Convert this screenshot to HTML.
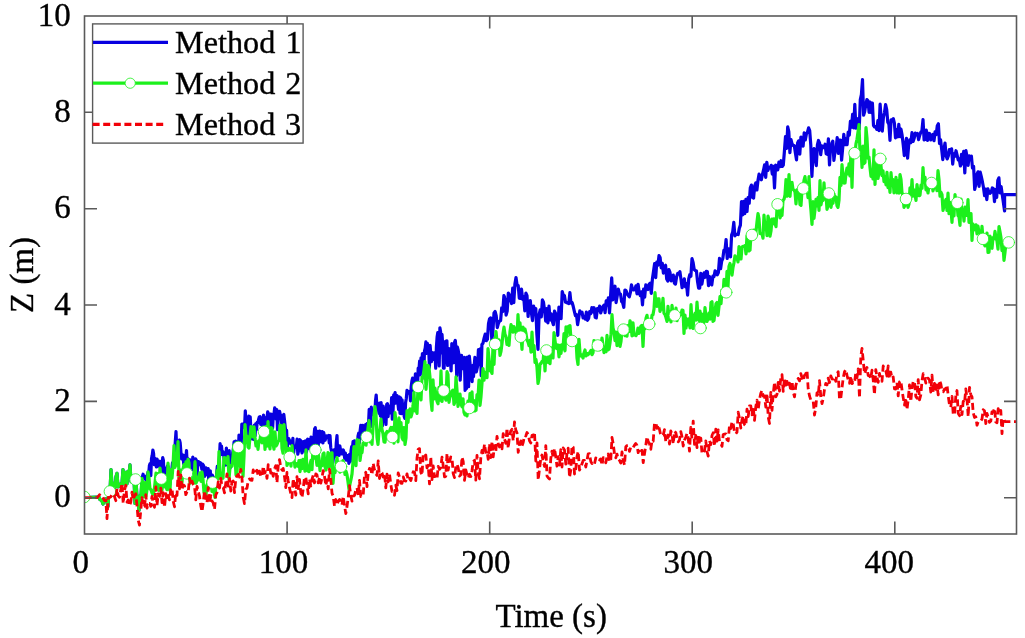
<!DOCTYPE html>
<html><head><meta charset="utf-8"><title>Z (m) vs Time (s)</title><style>
html,body{margin:0;padding:0;background:#fff;}
svg{display:block;}
text{font-family:"Liberation Serif","Times New Roman",serif;font-size:33px;fill:#000;stroke:#000;stroke-width:0.35px;}
text.lg{font-size:32.2px;}
</style></head><body>
<svg width="1025" height="638" viewBox="0 0 1025 638">
<rect width="1025" height="638" fill="#fff"/>
<defs><clipPath id="ax"><rect x="84.5" y="16" width="932.0" height="518"/></clipPath></defs>
<g clip-path="url(#ax)" fill="none" stroke-linejoin="round" stroke-linecap="round">
<path d="M84.6 497.6 L99.0 497.0 L100.0 499.6 L101.0 500.1 L102.0 501.0 L103.0 504.1 L104.0 500.7 L105.0 499.2 L106.0 498.8 L107.0 502.7 L108.0 506.4 L109.0 488.3 L110.0 491.5 L111.0 469.6 L112.0 484.8 L113.0 489.0 L114.0 483.4 L115.0 487.7 L116.0 476.8 L117.0 473.3 L118.0 486.9 L119.0 486.4 L120.0 484.7 L121.0 483.7 L122.0 483.1 L123.0 469.6 L124.0 483.8 L125.0 483.7 L126.0 472.4 L127.0 483.8 L128.0 471.4 L129.0 475.2 L130.0 464.8 L131.0 481.5 L132.0 482.3 L133.0 479.2 L134.0 478.5 L135.0 503.4 L136.0 479.5 L137.0 497.8 L138.0 501.2 L139.0 510.4 L140.0 495.9 L141.0 495.9 L142.0 478.3 L143.1 474.2 L143.8 477.1 L144.5 476.6 L145.2 478.3 L145.9 480.0 L146.6 475.7 L147.3 475.5 L148.0 472.4 L148.7 473.8 L149.4 465.6 L150.1 463.6 L150.8 475.6 L151.5 458.7 L152.2 455.4 L152.9 450.0 L153.6 453.5 L154.3 464.7 L155.0 458.3 L155.7 461.5 L156.4 467.0 L157.1 459.1 L157.8 466.4 L158.5 460.9 L159.2 464.7 L159.9 463.6 L160.6 461.4 L161.3 471.1 L162.0 471.7 L162.7 457.6 L163.4 460.5 L164.1 480.5 L164.8 470.0 L165.5 476.6 L166.2 468.3 L166.9 467.3 L167.6 465.8 L168.3 467.0 L169.0 476.4 L169.7 484.9 L170.4 476.1 L171.1 474.7 L171.8 470.0 L172.5 462.9 L173.2 462.4 L173.9 467.5 L174.6 452.5 L175.3 441.5 L176.0 431.6 L176.7 449.1 L177.4 443.7 L178.1 464.7 L178.8 444.8 L179.5 440.2 L180.2 443.0 L180.9 452.0 L181.6 459.0 L182.3 457.4 L183.0 455.1 L183.7 463.8 L184.4 455.6 L185.1 462.2 L185.8 458.6 L186.5 450.7 L187.2 465.2 L187.9 458.6 L188.6 468.0 L189.3 463.2 L190.0 459.8 L190.7 466.8 L191.4 463.8 L192.1 469.9 L192.8 457.1 L193.5 468.5 L194.2 461.2 L194.9 469.7 L195.6 458.9 L196.3 460.0 L197.0 475.7 L197.7 464.8 L198.4 461.5 L199.1 463.6 L199.8 464.5 L200.5 462.7 L201.2 465.3 L201.9 469.4 L202.6 464.1 L203.3 465.1 L204.0 466.9 L204.7 476.3 L205.4 468.4 L206.1 468.0 L206.8 474.6 L207.5 472.7 L208.2 468.6 L208.9 483.3 L209.6 471.7 L210.3 471.0 L211.0 484.5 L211.7 481.4 L212.4 475.2 L213.1 479.0 L213.8 477.9 L214.5 480.3 L215.2 484.4 L215.9 478.7 L216.6 474.4 L217.3 466.3 L218.0 470.1 L218.7 469.6 L219.4 459.3 L220.1 443.7 L220.8 450.4 L221.5 446.2 L222.2 454.5 L222.9 451.5 L223.6 452.7 L224.3 462.9 L225.0 457.2 L225.7 465.1 L226.4 448.0 L227.1 460.6 L227.8 451.3 L228.5 464.1 L229.2 450.6 L229.9 468.4 L230.6 467.0 L231.3 456.6 L232.0 461.2 L232.7 452.8 L233.4 448.8 L234.1 441.9 L234.8 458.2 L235.5 441.0 L236.2 441.5 L236.9 449.3 L237.6 450.2 L238.3 453.2 L239.0 435.0 L239.7 455.7 L240.4 442.2 L241.1 448.8 L241.8 424.2 L242.5 425.7 L243.2 427.7 L243.9 423.5 L244.6 426.8 L245.3 410.8 L246.0 423.9 L246.7 434.6 L247.4 417.9 L248.1 423.1 L248.8 416.1 L249.5 438.3 L250.2 416.8 L250.9 431.1 L251.6 426.9 L252.3 438.8 L253.0 428.4 L253.7 439.5 L254.4 425.0 L255.1 435.8 L255.8 423.5 L256.5 429.7 L257.2 422.3 L257.9 422.8 L258.6 419.5 L259.3 417.0 L260.0 416.7 L260.7 424.4 L261.4 418.5 L262.1 418.3 L262.8 431.4 L263.5 415.0 L264.2 429.9 L264.9 417.6 L265.6 428.7 L266.3 424.8 L267.0 417.9 L267.7 411.9 L268.4 413.7 L269.1 430.3 L269.8 415.9 L270.5 414.1 L271.2 427.3 L271.9 414.4 L272.6 428.1 L273.3 415.0 L274.0 413.9 L274.7 407.9 L275.4 409.7 L276.1 419.2 L276.8 409.5 L277.5 429.7 L278.2 416.6 L278.9 413.9 L279.6 411.3 L280.3 414.8 L281.0 417.1 L281.7 425.2 L282.4 423.6 L283.1 415.8 L283.8 414.4 L284.5 420.1 L285.2 426.9 L285.9 432.8 L286.6 430.3 L287.3 448.8 L288.0 438.3 L288.7 438.5 L289.4 441.4 L290.1 443.0 L290.8 441.2 L291.5 444.4 L292.2 444.5 L292.9 438.4 L293.6 453.1 L294.3 447.9 L295.0 447.9 L295.7 445.9 L296.4 446.4 L297.1 439.2 L297.8 454.1 L298.5 451.1 L299.2 442.3 L299.9 439.7 L300.6 440.5 L301.3 449.5 L302.0 452.9 L302.7 448.6 L303.4 441.7 L304.1 442.6 L304.8 451.2 L305.5 440.9 L306.2 452.7 L306.9 449.9 L307.6 439.2 L308.3 440.6 L309.0 448.3 L309.7 439.3 L310.4 445.4 L311.1 437.0 L311.8 445.0 L312.5 447.8 L313.2 438.1 L313.9 438.0 L314.6 429.0 L315.3 427.7 L316.0 450.0 L316.7 435.0 L317.4 431.3 L318.1 448.2 L318.8 434.8 L319.5 431.2 L320.2 431.3 L320.9 441.8 L321.6 440.1 L322.3 431.6 L323.0 443.0 L323.7 432.5 L324.4 436.6 L325.1 440.3 L325.8 437.6 L326.5 436.0 L327.2 437.7 L327.9 436.0 L328.6 435.5 L329.3 443.0 L330.0 435.6 L330.7 447.2 L331.4 450.7 L332.1 451.0 L332.8 462.9 L333.5 457.3 L334.2 449.8 L334.9 455.1 L335.6 456.7 L336.3 442.7 L337.0 435.6 L337.7 454.4 L338.4 450.5 L339.1 455.5 L339.8 445.9 L340.5 449.9 L341.2 449.9 L341.9 454.0 L342.6 451.9 L343.3 450.0 L344.0 452.5 L344.7 458.4 L345.4 453.1 L346.1 460.2 L346.8 455.4 L347.5 457.4 L348.2 455.7 L348.9 463.4 L349.6 454.4 L350.3 461.3 L351.0 451.1 L351.7 446.6 L352.4 449.0 L353.1 441.5 L353.8 446.0 L354.5 440.9 L355.2 448.4 L355.9 446.2 L356.6 446.0 L357.3 454.6 L358.0 436.2 L358.7 433.2 L359.4 442.8 L360.1 431.2 L360.8 425.3 L361.5 425.8 L362.2 435.6 L362.9 425.3 L363.6 430.9 L364.3 427.7 L365.0 433.5 L365.7 424.7 L366.4 427.1 L367.1 423.7 L367.8 430.3 L368.5 424.3 L369.2 409.3 L369.9 420.7 L370.6 426.6 L371.3 407.2 L372.0 414.7 L372.7 410.7 L373.4 412.7 L374.1 414.5 L374.8 416.1 L375.5 400.9 L376.2 395.0 L376.9 406.6 L377.6 403.4 L378.3 409.1 L379.0 413.3 L379.7 403.1 L380.4 416.0 L381.1 402.6 L381.8 420.8 L382.5 425.6 L383.2 406.0 L383.9 421.3 L384.6 419.3 L385.3 408.2 L386.0 424.4 L386.7 404.3 L387.4 403.6 L388.1 416.6 L388.8 405.9 L389.5 407.5 L390.2 407.6 L390.9 413.1 L391.6 397.7 L392.3 419.1 L393.0 412.0 L393.7 394.9 L394.4 395.8 L395.1 392.6 L395.8 403.1 L396.5 395.3 L397.2 395.8 L397.9 403.2 L398.6 409.6 L399.3 396.8 L400.0 413.3 L400.7 397.8 L401.4 413.7 L402.1 399.8 L402.8 411.2 L403.5 404.1 L404.2 416.4 L404.9 418.4 L405.6 402.6 L406.3 398.4 L407.0 390.4 L407.7 391.4 L408.4 392.4 L409.1 393.2 L409.8 391.3 L410.5 400.9 L411.2 386.6 L411.9 381.1 L412.6 378.1 L413.3 385.1 L414.0 390.7 L414.7 390.5 L415.4 373.9 L416.1 375.1 L416.8 376.7 L417.5 388.0 L418.2 368.1 L418.9 371.0 L419.6 361.2 L420.3 374.8 L421.0 357.9 L421.7 367.2 L422.4 353.5 L423.1 358.8 L423.8 371.9 L424.5 350.8 L425.2 348.2 L425.9 341.9 L426.6 353.3 L427.3 343.4 L428.0 346.7 L428.7 348.2 L429.4 367.5 L430.1 345.4 L430.8 353.7 L431.5 361.7 L432.2 352.7 L432.9 358.5 L433.6 353.0 L434.3 359.4 L435.0 352.5 L435.7 368.2 L436.4 347.1 L437.1 337.0 L437.8 332.6 L438.5 344.6 L439.2 366.0 L439.9 327.8 L440.6 331.7 L441.3 352.9 L442.0 334.4 L442.7 344.0 L443.4 368.1 L444.1 368.2 L444.8 354.0 L445.5 341.4 L446.2 347.5 L446.9 340.9 L447.6 365.5 L448.3 364.5 L449.0 348.5 L449.7 364.7 L450.4 361.2 L451.1 371.0 L451.8 343.5 L452.5 363.1 L453.2 354.7 L453.9 362.6 L454.6 342.2 L455.3 340.4 L456.0 348.8 L456.7 375.8 L457.4 347.1 L458.1 349.9 L458.8 353.7 L459.5 357.0 L460.2 380.2 L460.9 366.3 L461.6 355.4 L462.3 368.7 L463.0 365.1 L463.7 368.5 L464.4 357.3 L465.1 390.4 L465.8 387.9 L466.5 388.5 L467.2 357.1 L467.9 370.0 L468.6 386.7 L469.3 356.0 L470.0 362.9 L470.7 376.4 L471.4 372.2 L472.1 381.6 L472.8 365.4 L473.5 376.7 L474.2 365.7 L474.9 357.3 L475.6 368.2 L476.3 371.9 L477.0 368.9 L477.7 365.5 L478.4 349.7 L479.1 364.1 L479.8 349.4 L480.5 348.8 L481.2 375.7 L481.9 344.6 L483.0 343.2 L484.1 338.1 L485.2 334.1 L486.3 340.7 L487.4 339.3 L488.5 323.7 L489.6 318.7 L490.7 317.9 L491.8 340.0 L492.9 331.6 L494.0 312.9 L495.1 311.5 L496.2 315.6 L497.3 327.7 L498.4 323.4 L499.5 321.2 L500.6 320.6 L501.7 307.8 L502.8 311.5 L503.9 295.5 L505.0 298.5 L506.1 315.2 L507.2 311.1 L508.3 293.0 L509.4 295.1 L510.5 299.7 L511.6 303.5 L512.7 288.2 L513.8 302.7 L514.9 284.0 L516.0 277.6 L517.1 285.3 L518.2 285.6 L519.3 298.1 L520.4 298.4 L521.5 289.1 L522.6 299.3 L523.7 296.6 L524.8 311.0 L525.9 293.1 L527.0 295.7 L528.1 316.5 L529.2 302.7 L530.3 300.6 L531.4 312.7 L532.5 320.6 L533.6 306.0 L534.7 310.6 L535.8 308.7 L536.9 334.7 L538.0 349.4 L539.1 314.7 L540.2 309.8 L541.3 317.0 L542.4 299.9 L543.5 302.2 L544.6 310.7 L545.7 321.1 L546.8 308.5 L547.9 322.8 L549.0 306.1 L550.1 319.9 L551.2 313.9 L552.3 321.3 L553.4 324.7 L554.5 311.2 L555.6 313.5 L556.7 316.6 L557.8 335.3 L558.9 307.2 L560.0 311.1 L561.1 318.6 L562.2 291.5 L563.3 295.2 L564.4 295.5 L565.5 302.2 L566.6 302.5 L567.7 303.1 L568.8 303.6 L569.9 292.7 L571.0 303.2 L572.1 302.5 L573.2 306.3 L574.3 311.2 L575.4 315.7 L576.5 314.6 L577.6 324.7 L578.7 317.9 L579.8 310.9 L580.9 313.2 L582.0 312.1 L583.1 317.9 L584.2 316.5 L585.3 319.0 L586.4 312.1 L587.5 320.3 L588.6 318.4 L589.7 311.5 L590.8 313.5 L591.9 307.5 L593.0 311.9 L594.1 307.7 L595.2 317.3 L596.3 317.9 L597.4 308.5 L598.5 310.6 L599.6 306.1 L600.7 313.0 L601.8 309.3 L602.9 306.7 L604.0 305.1 L605.1 312.7 L606.2 300.8 L607.3 305.2 L608.4 297.8 L609.5 312.9 L610.6 295.7 L611.7 277.9 L612.8 299.8 L613.9 289.5 L615.0 286.2 L616.1 302.6 L617.2 296.0 L618.3 289.1 L619.4 293.8 L620.5 294.0 L621.6 301.5 L622.7 302.8 L623.8 307.3 L624.9 290.0 L626.0 290.4 L627.1 293.8 L628.2 295.4 L629.3 296.9 L630.4 292.4 L631.5 284.8 L632.6 289.5 L633.7 290.0 L634.8 289.6 L635.9 285.9 L637.0 293.8 L638.1 284.3 L639.2 292.6 L640.3 295.6 L641.4 291.8 L642.5 304.9 L643.6 289.2 L644.7 297.2 L645.8 284.8 L646.9 286.6 L648.0 289.5 L649.1 284.3 L650.2 283.1 L651.3 293.4 L652.4 279.1 L653.5 271.6 L654.6 263.6 L655.7 277.7 L656.8 262.0 L657.9 265.3 L659.0 255.6 L660.1 257.5 L661.2 267.8 L662.3 263.2 L663.4 273.1 L664.5 266.4 L665.6 265.3 L666.7 279.1 L667.8 281.1 L668.9 269.7 L670.0 272.4 L671.1 280.8 L672.2 278.3 L673.3 275.1 L674.4 283.3 L675.5 284.1 L676.6 276.7 L677.7 273.4 L678.8 273.8 L679.9 271.6 L681.0 279.4 L682.1 287.7 L683.2 284.0 L684.3 278.8 L685.4 286.8 L686.5 283.5 L687.6 295.1 L688.7 279.0 L689.8 274.7 L690.9 276.2 L692.0 258.6 L693.1 262.4 L694.2 269.6 L695.3 270.5 L696.4 270.7 L697.5 281.2 L698.6 288.1 L699.7 288.2 L700.8 273.4 L701.9 284.1 L703.0 277.3 L704.1 272.8 L705.2 277.3 L706.3 271.3 L707.4 271.8 L708.5 285.7 L709.6 276.7 L710.7 283.8 L711.8 284.8 L712.9 276.2 L714.0 276.7 L715.1 270.9 L716.2 272.0 L717.3 274.8 L718.4 272.5 L719.5 258.3 L720.6 268.7 L721.7 261.1 L722.8 258.6 L723.9 250.3 L725.0 249.9 L726.1 239.5 L727.2 258.5 L728.3 248.9 L729.4 252.4 L730.5 256.8 L731.6 235.1 L732.7 231.9 L733.8 222.4 L734.9 235.9 L736.0 234.3 L737.1 234.2 L738.2 234.5 L739.3 228.2 L740.4 225.1 L741.5 201.5 L742.6 214.9 L743.7 201.4 L744.8 213.6 L745.9 199.4 L747.0 211.5 L748.1 197.6 L749.2 203.3 L750.3 187.8 L751.4 185.1 L752.5 197.4 L753.6 198.0 L754.7 185.7 L755.8 182.8 L756.9 190.0 L758.0 180.2 L759.1 174.1 L760.2 178.3 L761.3 179.8 L762.4 174.6 L763.5 170.2 L764.6 164.8 L765.7 177.4 L766.8 162.3 L767.9 170.5 L769.0 167.5 L770.1 167.9 L771.2 165.3 L772.3 174.1 L773.4 166.4 L774.5 187.9 L775.6 165.2 L776.7 165.7 L777.8 169.9 L778.9 162.1 L780.0 166.7 L781.1 160.7 L782.2 166.5 L783.3 165.0 L784.4 151.5 L785.5 136.6 L786.6 148.3 L787.7 126.9 L788.8 131.7 L789.9 152.7 L791.0 139.5 L792.1 144.1 L793.2 145.4 L794.3 145.5 L795.4 153.1 L796.5 159.8 L797.6 143.0 L798.7 140.8 L799.8 154.1 L800.9 137.1 L802.0 143.5 L803.1 146.1 L804.2 132.9 L805.3 140.0 L806.4 134.0 L807.5 132.1 L808.6 127.8 L809.7 130.5 L810.8 145.2 L811.9 176.5 L813.0 154.9 L814.1 148.5 L815.2 158.8 L816.3 165.6 L817.4 144.9 L818.5 140.5 L819.6 143.2 L820.7 154.7 L821.8 145.9 L822.9 147.6 L824.0 147.4 L825.1 144.2 L826.2 153.8 L827.3 154.3 L828.4 138.8 L829.5 164.9 L830.6 146.0 L831.7 143.7 L832.8 141.1 L833.9 160.4 L835.0 151.8 L836.1 148.8 L837.2 137.7 L838.3 153.5 L839.4 140.0 L840.5 140.0 L841.6 160.2 L842.7 147.8 L843.8 134.4 L844.9 144.6 L846.0 138.9 L847.1 144.7 L848.2 132.1 L849.3 135.2 L850.4 121.3 L851.5 127.3 L852.6 114.4 L853.7 127.9 L854.8 104.4 L855.9 128.2 L857.0 118.5 L858.1 127.7 L859.2 129.1 L860.3 99.6 L861.4 94.7 L862.5 79.6 L863.6 115.2 L864.7 111.5 L865.8 104.5 L866.9 99.6 L868.0 100.9 L869.1 112.4 L870.2 102.2 L871.3 112.6 L872.4 103.2 L873.5 125.5 L874.6 126.9 L875.7 126.4 L876.8 129.4 L877.9 120.6 L879.0 130.6 L880.1 104.2 L881.2 119.3 L882.3 131.2 L883.4 117.4 L884.5 112.5 L885.6 104.5 L886.7 109.6 L887.8 122.3 L888.9 124.2 L890.0 140.4 L891.1 119.9 L892.2 119.8 L893.3 118.7 L894.4 123.2 L895.5 137.8 L896.6 129.8 L897.7 136.8 L898.8 124.3 L899.9 136.7 L901.0 129.2 L902.1 135.1 L903.2 144.6 L904.3 155.6 L905.4 145.5 L906.5 138.3 L907.6 158.1 L908.7 144.9 L909.8 139.8 L910.9 142.7 L912.0 132.6 L913.1 141.5 L914.2 138.2 L915.3 133.1 L916.4 134.9 L917.5 133.5 L918.6 139.6 L919.7 135.4 L920.8 132.2 L921.9 131.1 L923.0 119.6 L924.1 139.9 L925.2 139.3 L926.3 130.1 L927.4 140.4 L928.5 133.3 L929.6 133.6 L930.7 139.9 L931.8 136.4 L932.9 134.3 L934.0 140.7 L935.1 131.8 L936.2 134.6 L937.3 125.8 L938.4 123.8 L939.5 143.4 L940.6 139.9 L941.7 149.6 L942.8 159.6 L943.9 149.5 L945.0 143.0 L946.1 155.7 L947.2 158.9 L948.3 155.9 L949.4 149.6 L950.5 152.4 L951.6 148.8 L952.7 164.1 L953.8 153.9 L954.9 156.3 L956.0 150.7 L957.1 155.2 L958.2 159.8 L959.3 159.2 L960.4 166.0 L961.5 154.3 L962.6 163.8 L963.7 151.3 L964.8 173.0 L965.9 150.6 L967.0 156.6 L968.1 165.4 L969.2 155.8 L970.3 157.8 L971.4 156.1 L972.5 168.1 L973.6 166.4 L974.7 189.5 L975.8 184.3 L976.9 174.3 L978.0 171.8 L979.1 186.3 L980.2 172.1 L981.3 176.6 L982.4 181.7 L983.5 187.7 L984.6 195.7 L985.7 189.1 L986.8 199.7 L987.9 188.9 L989.0 192.7 L990.1 193.3 L991.2 191.9 L992.3 188.0 L993.4 188.6 L994.5 201.6 L995.6 189.5 L996.7 197.5 L997.8 180.3 L998.9 177.8 L1000.0 193.0 L1001.1 186.6 L1002.2 194.2 L1004.6 211.0 L1004.6 194.7 L1017.0 194.7" stroke="#0800e0" stroke-width="3.2"/>
<path d="M84.6 497.6 L99.0 497.0 L100.0 499.6 L101.0 500.1 L102.0 501.0 L103.0 504.1 L104.0 500.7 L105.0 499.2 L106.0 498.8 L107.0 502.7 L108.0 506.4 L109.0 488.3 L110.0 491.5 L111.0 469.6 L112.0 484.8 L113.0 489.0 L114.0 483.4 L115.0 487.7 L116.0 476.8 L117.0 473.3 L118.0 486.9 L119.0 486.4 L120.0 484.7 L121.0 483.7 L122.0 483.1 L123.0 469.6 L124.0 483.8 L125.0 483.7 L126.0 472.4 L127.0 483.8 L128.0 471.4 L129.0 475.2 L130.0 464.8 L131.0 481.5 L132.0 482.3 L133.0 479.2 L134.0 478.5 L135.0 503.4 L136.0 479.5 L137.0 497.8 L138.0 501.2 L139.0 510.4 L140.0 495.9 L141.0 495.9 L142.0 478.3 L143.0 488.4 L144.0 496.9 L145.0 482.7 L146.0 496.2 L147.0 489.7 L148.0 471.8 L149.0 478.3 L150.0 488.8 L151.0 489.7 L152.0 493.1 L153.0 494.4 L154.0 491.4 L155.0 483.1 L156.0 473.1 L157.0 489.3 L158.0 473.7 L159.0 490.5 L160.0 468.1 L161.0 478.6 L162.0 490.2 L163.0 479.1 L164.0 480.1 L165.0 486.9 L166.0 486.7 L167.0 489.7 L168.0 463.1 L169.0 474.1 L170.0 490.4 L171.0 469.6 L172.0 478.2 L173.0 465.8 L174.0 445.6 L175.0 467.4 L176.0 460.1 L177.0 465.1 L178.0 441.6 L179.0 476.2 L180.0 479.9 L181.0 470.1 L182.0 482.4 L183.0 469.0 L184.0 464.6 L185.0 470.3 L186.0 461.8 L187.0 473.4 L188.0 459.3 L189.0 462.9 L190.0 483.4 L191.0 479.5 L192.0 474.8 L193.0 479.1 L194.0 483.0 L195.0 461.6 L196.0 483.1 L197.0 480.7 L198.0 480.0 L199.0 476.1 L200.0 472.8 L201.0 481.4 L202.0 472.2 L203.0 479.3 L204.0 492.6 L205.0 486.2 L206.0 494.6 L207.0 485.9 L208.0 480.6 L209.0 484.6 L210.0 487.6 L211.0 483.2 L212.0 491.5 L213.0 482.6 L214.0 492.4 L215.0 497.4 L216.0 483.5 L217.0 470.6 L218.0 479.0 L219.0 451.6 L220.0 471.5 L221.0 478.9 L222.0 475.8 L223.0 478.2 L224.0 457.7 L225.0 457.8 L226.0 461.6 L227.0 463.6 L228.0 456.6 L229.0 479.0 L230.0 467.1 L231.0 465.5 L232.0 466.1 L233.0 456.6 L234.0 445.6 L235.0 457.7 L236.0 475.0 L237.0 473.9 L238.0 447.0 L239.0 458.7 L240.0 464.1 L241.0 469.5 L242.0 448.1 L243.0 476.4 L244.0 456.3 L245.0 424.6 L246.0 435.9 L247.0 436.1 L248.0 447.1 L249.0 448.0 L250.0 436.5 L251.0 426.6 L252.0 432.1 L253.0 437.0 L254.0 426.8 L255.0 438.3 L256.0 446.0 L257.0 441.9 L258.0 449.3 L259.0 440.6 L260.0 440.3 L261.0 432.0 L262.0 442.9 L263.0 428.4 L264.0 431.7 L265.0 449.4 L266.0 426.5 L267.0 446.2 L268.0 421.5 L269.0 443.2 L270.0 449.0 L271.0 427.5 L272.0 428.2 L273.0 443.6 L274.0 449.1 L275.0 431.8 L276.0 445.9 L277.0 444.6 L278.0 441.5 L279.0 440.6 L280.0 425.2 L281.0 425.5 L282.0 448.5 L283.0 453.2 L284.0 424.6 L285.0 441.5 L286.0 442.8 L287.0 465.4 L288.0 462.7 L289.0 448.4 L290.0 457.0 L291.0 466.2 L292.0 445.6 L293.0 455.5 L294.0 459.0 L295.0 467.1 L296.0 463.5 L297.0 463.7 L298.0 466.3 L299.0 460.6 L300.0 471.7 L301.0 460.4 L302.0 468.6 L303.0 459.3 L304.0 462.5 L305.0 471.2 L306.0 449.9 L307.0 470.5 L308.0 470.9 L309.0 471.6 L310.0 464.6 L311.0 460.3 L312.0 469.7 L313.0 448.7 L314.0 458.1 L315.0 450.0 L316.0 457.6 L317.0 465.4 L318.0 452.6 L319.0 458.2 L320.0 470.6 L321.0 461.9 L322.0 465.7 L323.0 453.9 L324.0 453.0 L325.0 466.8 L326.0 470.0 L327.0 461.7 L328.0 452.7 L329.0 467.2 L330.0 466.1 L331.0 453.1 L332.0 452.9 L333.0 483.4 L334.0 469.3 L335.0 472.8 L336.0 465.2 L337.0 457.5 L338.0 467.7 L339.0 468.2 L340.0 472.2 L341.0 466.7 L342.0 467.6 L343.0 460.5 L344.0 465.8 L345.0 474.5 L346.0 471.3 L347.0 474.8 L348.0 481.7 L349.0 489.4 L350.0 483.9 L351.0 479.4 L352.0 474.1 L353.0 462.0 L354.0 446.7 L355.0 449.0 L356.0 465.7 L357.0 439.6 L358.0 450.0 L359.0 440.3 L360.0 460.5 L361.0 452.8 L362.0 452.6 L363.0 443.3 L364.0 444.0 L365.0 434.2 L366.0 445.2 L367.0 436.8 L368.0 428.2 L369.0 420.6 L370.0 442.0 L371.0 431.1 L372.0 444.4 L373.0 427.1 L374.0 415.8 L375.0 406.6 L376.0 414.4 L377.0 437.4 L378.0 444.4 L379.0 431.5 L380.0 429.2 L381.0 419.2 L382.0 429.6 L383.0 433.6 L384.0 441.9 L385.0 442.1 L386.0 433.2 L387.0 431.5 L388.0 435.8 L389.0 437.9 L390.0 429.6 L391.0 427.5 L392.0 437.0 L393.0 427.3 L394.0 443.1 L395.0 412.6 L396.0 422.8 L397.0 431.0 L398.0 441.8 L399.0 417.9 L400.0 429.7 L401.0 422.7 L402.0 437.7 L403.0 439.9 L404.0 427.5 L405.0 444.4 L406.0 437.9 L407.0 410.5 L408.0 422.4 L409.0 410.9 L410.0 409.0 L411.0 416.8 L412.0 413.2 L413.0 406.0 L414.0 392.7 L415.0 410.8 L416.0 409.9 L417.0 413.4 L418.0 387.0 L419.0 398.1 L420.0 391.4 L421.0 400.0 L422.0 377.0 L423.0 378.2 L424.0 370.2 L425.0 361.6 L426.0 389.3 L427.0 376.2 L428.0 365.3 L429.0 367.5 L430.0 377.5 L431.0 400.3 L432.0 410.4 L433.0 379.9 L434.0 399.0 L435.0 388.1 L436.0 396.2 L437.0 401.1 L438.0 403.8 L439.0 387.3 L440.0 400.1 L441.0 370.9 L442.0 401.5 L443.0 392.3 L444.0 390.6 L445.0 397.5 L446.0 400.2 L447.0 371.7 L448.0 374.5 L449.0 402.3 L450.0 396.3 L451.0 395.8 L452.0 390.9 L453.0 390.1 L454.0 404.5 L455.0 401.6 L456.0 376.8 L457.0 390.2 L458.0 406.3 L459.0 397.9 L460.0 394.1 L461.0 404.2 L462.0 406.8 L463.0 398.9 L464.0 412.3 L465.0 414.8 L466.0 414.7 L467.0 415.8 L468.0 401.2 L469.0 408.0 L470.0 393.7 L471.0 411.3 L472.0 391.8 L473.0 411.2 L474.0 400.6 L475.0 411.0 L476.0 410.3 L477.0 394.7 L478.0 397.8 L479.0 380.2 L480.0 405.4 L481.0 396.5 L482.0 383.2 L483.0 368.5 L484.0 380.2 L485.0 372.4 L486.0 373.9 L487.0 377.6 L488.0 348.6 L489.0 358.7 L490.0 370.8 L491.0 370.7 L492.0 373.4 L493.0 346.1 L494.0 364.4 L495.0 344.0 L496.0 331.6 L497.0 341.3 L498.0 347.9 L499.0 339.8 L500.0 355.4 L501.0 351.4 L502.0 343.6 L503.0 333.4 L504.0 327.2 L505.0 334.4 L506.0 336.7 L507.0 344.5 L508.0 339.0 L509.0 345.4 L510.0 331.4 L511.0 324.7 L512.0 327.0 L513.0 332.2 L514.0 326.5 L515.0 330.7 L516.0 332.5 L517.0 337.9 L518.0 314.6 L519.0 332.6 L520.0 322.8 L521.0 336.7 L522.0 349.4 L523.0 327.2 L524.0 338.8 L525.0 329.0 L526.0 333.7 L527.0 340.0 L528.0 341.9 L529.0 345.6 L530.0 340.4 L531.0 352.1 L532.0 332.1 L533.0 351.3 L534.0 345.5 L535.0 362.5 L536.0 359.6 L537.0 367.4 L538.0 383.4 L539.0 378.6 L540.0 364.0 L541.0 363.5 L542.0 361.5 L543.0 361.9 L544.0 350.9 L545.0 371.0 L546.0 350.5 L547.0 351.7 L548.0 362.4 L549.0 358.3 L550.0 363.7 L551.0 347.8 L552.0 355.4 L553.0 357.9 L554.0 332.6 L555.0 340.4 L556.0 348.0 L557.0 348.5 L558.0 345.0 L559.0 356.9 L560.0 345.4 L561.0 353.3 L562.0 344.5 L563.0 348.8 L564.0 333.5 L565.0 350.8 L566.0 326.9 L567.0 335.5 L568.0 326.7 L569.0 326.3 L570.0 325.6 L571.0 339.7 L572.0 341.0 L573.0 343.0 L574.0 341.2 L575.0 340.9 L576.0 339.5 L577.0 358.0 L578.0 364.4 L579.0 339.4 L580.0 353.2 L581.0 356.0 L582.0 355.0 L583.0 358.1 L584.0 353.0 L585.0 350.0 L586.0 356.0 L587.0 353.6 L588.0 354.8 L589.0 353.6 L590.0 352.0 L591.0 350.4 L592.0 354.6 L593.0 352.8 L594.0 340.5 L595.0 342.3 L596.0 348.4 L597.0 349.4 L598.0 345.5 L599.0 342.0 L600.0 349.7 L601.0 347.1 L602.0 338.0 L603.0 345.4 L604.0 352.6 L605.0 351.4 L606.0 351.7 L607.0 335.3 L608.0 349.8 L609.0 349.2 L610.0 342.9 L611.0 334.2 L612.0 314.6 L613.0 327.9 L614.0 331.9 L615.0 340.6 L616.0 332.1 L617.0 345.6 L618.0 332.3 L619.0 339.1 L620.0 346.4 L621.0 341.4 L622.0 330.8 L623.0 329.6 L624.0 331.1 L625.0 335.6 L626.0 331.9 L627.0 336.1 L628.0 325.7 L629.0 331.6 L630.0 320.8 L631.0 324.2 L632.0 335.9 L633.0 322.9 L634.0 335.1 L635.0 334.7 L636.0 335.6 L637.0 333.6 L638.0 328.1 L639.0 333.4 L640.0 328.5 L641.0 326.1 L642.0 325.4 L643.0 346.4 L644.0 325.3 L645.0 328.7 L646.0 318.3 L647.0 315.3 L648.0 324.3 L649.0 324.0 L650.0 322.2 L651.0 324.7 L652.0 315.2 L653.0 314.8 L654.0 309.0 L655.0 292.6 L656.0 305.7 L657.0 306.3 L658.0 298.9 L659.0 298.9 L660.0 311.4 L661.0 306.7 L662.0 309.0 L663.0 298.3 L664.0 313.2 L665.0 314.5 L666.0 317.5 L667.0 321.4 L668.0 306.3 L669.0 319.7 L670.0 311.7 L671.0 322.0 L672.0 305.4 L673.0 313.8 L674.0 313.1 L675.0 315.4 L676.0 308.1 L677.0 320.7 L678.0 312.9 L679.0 316.2 L680.0 315.1 L681.0 314.8 L682.0 310.0 L683.0 310.5 L684.0 333.4 L685.0 315.2 L686.0 328.0 L687.0 319.1 L688.0 325.0 L689.0 318.8 L690.0 327.9 L691.0 304.7 L692.0 323.2 L693.0 328.5 L694.0 316.7 L695.0 313.5 L696.0 320.1 L697.0 302.0 L698.0 316.8 L699.0 320.4 L700.0 311.1 L701.0 328.0 L702.0 314.2 L703.0 323.8 L704.0 322.3 L705.0 307.7 L706.0 317.0 L707.0 321.4 L708.0 318.6 L709.0 313.1 L710.0 319.1 L711.0 302.6 L712.0 301.8 L713.0 321.3 L714.0 320.5 L715.0 311.1 L716.0 303.7 L717.0 302.4 L718.0 315.4 L719.0 306.3 L720.0 296.6 L721.0 303.6 L722.0 290.3 L723.0 295.3 L724.0 279.3 L725.0 291.4 L726.0 292.3 L727.0 271.4 L728.0 286.3 L729.0 266.2 L730.0 263.5 L731.0 267.8 L732.0 275.1 L733.0 267.3 L734.0 262.6 L735.0 255.8 L736.0 257.7 L737.0 257.4 L738.0 261.9 L739.0 246.5 L740.0 258.9 L741.0 259.0 L742.0 247.2 L743.0 246.3 L744.0 246.2 L745.0 245.5 L746.0 253.8 L747.0 235.9 L748.0 251.0 L749.0 250.9 L750.0 250.1 L751.0 234.1 L752.0 235.0 L753.0 235.9 L754.0 230.2 L755.0 235.4 L756.0 231.3 L757.0 222.0 L758.0 213.6 L759.0 218.8 L760.0 233.5 L761.0 233.8 L762.0 233.7 L763.0 238.2 L764.0 215.1 L765.0 228.2 L766.0 223.6 L767.0 235.7 L768.0 216.2 L769.0 220.2 L770.0 236.1 L771.0 231.0 L772.0 219.0 L773.0 223.9 L774.0 218.8 L775.0 223.0 L776.0 226.6 L777.0 208.6 L778.0 204.3 L779.0 203.7 L780.0 218.0 L781.0 215.6 L782.0 215.4 L783.0 200.1 L784.0 199.5 L785.0 194.9 L786.0 179.6 L787.0 196.1 L788.0 195.4 L789.0 174.6 L790.0 196.3 L791.0 183.8 L792.0 182.4 L793.0 189.5 L794.0 190.1 L795.0 192.1 L796.0 203.8 L797.0 189.9 L798.0 195.4 L799.0 191.8 L800.0 204.5 L801.0 205.4 L802.0 189.9 L803.0 188.4 L804.0 180.4 L805.0 176.6 L806.0 185.9 L807.0 186.9 L808.0 197.7 L809.0 176.6 L810.0 199.7 L811.0 210.8 L812.0 224.4 L813.0 201.5 L814.0 218.3 L815.0 209.6 L816.0 199.4 L817.0 206.0 L818.0 197.7 L819.0 210.4 L820.0 180.6 L821.0 204.8 L822.0 199.0 L823.0 200.5 L824.0 182.8 L825.0 198.9 L826.0 194.4 L827.0 209.4 L828.0 205.8 L829.0 193.5 L830.0 199.7 L831.0 207.3 L832.0 200.9 L833.0 203.2 L834.0 194.4 L835.0 198.2 L836.0 196.9 L837.0 205.7 L838.0 207.4 L839.0 200.3 L840.0 177.4 L841.0 185.4 L842.0 164.6 L843.0 175.3 L844.0 183.1 L845.0 183.0 L846.0 173.3 L847.0 168.1 L848.0 173.8 L849.0 163.9 L850.0 176.0 L851.0 151.1 L852.0 187.3 L853.0 151.7 L854.0 154.1 L855.0 153.2 L856.0 143.7 L857.0 139.3 L858.0 132.0 L859.0 124.6 L860.0 153.2 L861.0 146.9 L862.0 167.4 L863.0 146.1 L864.0 163.6 L865.0 162.4 L866.0 127.6 L867.0 138.5 L868.0 158.1 L869.0 157.1 L870.0 167.5 L871.0 176.4 L872.0 172.4 L873.0 178.9 L874.0 149.9 L875.0 184.4 L876.0 162.8 L877.0 161.6 L878.0 178.4 L879.0 172.6 L880.0 158.9 L881.0 165.8 L882.0 175.6 L883.0 170.8 L884.0 181.6 L885.0 176.6 L886.0 184.8 L887.0 172.4 L888.0 187.6 L889.0 181.9 L890.0 192.4 L891.0 172.7 L892.0 184.4 L893.0 179.6 L894.0 192.9 L895.0 189.5 L896.0 177.3 L897.0 192.9 L898.0 180.6 L899.0 193.2 L900.0 174.6 L901.0 179.3 L902.0 193.1 L903.0 194.4 L904.0 207.4 L905.0 205.4 L906.0 199.0 L907.0 196.9 L908.0 207.4 L909.0 204.0 L910.0 187.8 L911.0 196.8 L912.0 179.6 L913.0 196.1 L914.0 189.9 L915.0 194.4 L916.0 200.4 L917.0 184.5 L918.0 192.9 L919.0 195.7 L920.0 195.2 L921.0 185.1 L922.0 188.3 L923.0 167.6 L924.0 182.3 L925.0 177.2 L926.0 190.0 L927.0 187.4 L928.0 193.0 L929.0 185.8 L930.0 179.9 L931.0 187.2 L932.0 183.0 L933.0 191.0 L934.0 186.8 L935.0 187.4 L936.0 184.4 L937.0 190.7 L938.0 170.6 L939.0 179.4 L940.0 196.2 L941.0 192.3 L942.0 194.6 L943.0 210.4 L944.0 205.8 L945.0 201.6 L946.0 199.3 L947.0 210.5 L948.0 193.2 L949.0 213.7 L950.0 202.3 L951.0 210.2 L952.0 222.4 L953.0 203.2 L954.0 216.0 L955.0 194.5 L956.0 205.8 L957.0 202.8 L958.0 215.6 L959.0 216.8 L960.0 225.4 L961.0 199.2 L962.0 213.8 L963.0 209.7 L964.0 221.1 L965.0 207.0 L966.0 210.5 L967.0 215.5 L968.0 199.6 L969.0 222.3 L970.0 218.2 L971.0 213.5 L972.0 240.4 L973.0 224.2 L974.0 229.8 L975.0 228.2 L976.0 224.9 L977.0 233.8 L978.0 226.2 L979.0 232.4 L980.0 232.3 L981.0 240.8 L982.0 226.3 L983.0 238.9 L984.0 243.0 L985.0 245.9 L986.0 240.1 L987.0 233.1 L988.0 252.4 L989.0 252.1 L990.0 236.2 L991.0 247.6 L992.0 248.3 L993.0 237.6 L994.0 239.0 L995.0 231.4 L996.0 237.9 L997.0 241.0 L998.0 249.1 L999.0 226.6 L1000.0 231.7 L1001.0 237.8 L1002.0 250.7 L1003.0 245.4 L1004.0 260.4 L1005.0 252.2 L1006.0 242.4 L1010.0 242.4" stroke="#1cf01c" stroke-width="3.2"/>
<g fill="#fff" stroke="#1cf01c" stroke-width="0.8"><circle cx="84.3" cy="497.0" r="5.8"/><circle cx="109.9" cy="491.5" r="5.8"/><circle cx="135.6" cy="479.5" r="5.8"/><circle cx="161.3" cy="478.6" r="5.8"/><circle cx="187.0" cy="473.4" r="5.8"/><circle cx="212.6" cy="482.6" r="5.8"/><circle cx="238.3" cy="447.0" r="5.8"/><circle cx="264.0" cy="431.7" r="5.8"/><circle cx="289.7" cy="457.0" r="5.8"/><circle cx="315.4" cy="450.0" r="5.8"/><circle cx="341.0" cy="466.7" r="5.8"/><circle cx="366.7" cy="436.8" r="5.8"/><circle cx="392.4" cy="437.0" r="5.8"/><circle cx="418.1" cy="387.0" r="5.8"/><circle cx="443.7" cy="390.6" r="5.8"/><circle cx="469.4" cy="408.0" r="5.8"/><circle cx="495.1" cy="344.0" r="5.8"/><circle cx="520.8" cy="336.7" r="5.8"/><circle cx="546.5" cy="350.5" r="5.8"/><circle cx="572.1" cy="341.0" r="5.8"/><circle cx="597.8" cy="345.5" r="5.8"/><circle cx="623.5" cy="329.6" r="5.8"/><circle cx="649.2" cy="324.0" r="5.8"/><circle cx="674.8" cy="315.4" r="5.8"/><circle cx="700.5" cy="328.0" r="5.8"/><circle cx="726.2" cy="292.3" r="5.8"/><circle cx="751.9" cy="235.0" r="5.8"/><circle cx="777.6" cy="204.3" r="5.8"/><circle cx="803.2" cy="188.4" r="5.8"/><circle cx="828.9" cy="193.5" r="5.8"/><circle cx="854.6" cy="153.2" r="5.8"/><circle cx="880.3" cy="158.9" r="5.8"/><circle cx="906.0" cy="199.0" r="5.8"/><circle cx="931.6" cy="183.0" r="5.8"/><circle cx="957.3" cy="202.8" r="5.8"/><circle cx="983.0" cy="238.9" r="5.8"/><circle cx="1008.7" cy="242.4" r="5.8"/></g>
<path d="M84.6 497.6 L97.0 497.6 L98.2 496.5 L99.5 494.7 L100.8 496.0 L102.0 495.6 L103.2 498.0 L104.5 500.5 L105.8 500.2 L107.0 518.6 L108.2 497.3 L109.5 497.6 L110.8 496.8 L112.0 493.9 L113.2 494.8 L114.5 496.5 L115.8 500.7 L117.0 488.9 L118.2 495.9 L119.5 497.3 L120.8 489.4 L122.0 483.4 L123.2 503.4 L124.5 490.2 L125.8 485.3 L127.0 502.2 L128.2 500.0 L129.5 505.7 L130.8 502.2 L132.0 492.2 L133.2 499.6 L134.5 496.1 L135.8 493.8 L137.0 505.9 L138.2 520.0 L139.5 525.1 L140.8 509.9 L142.0 497.7 L143.2 507.0 L144.5 506.4 L145.8 494.6 L147.0 508.2 L148.2 503.5 L149.5 503.5 L150.8 506.3 L152.0 496.5 L153.2 504.4 L154.5 507.2 L155.8 487.0 L157.0 505.4 L158.2 494.0 L159.5 496.4 L160.8 488.1 L162.0 502.7 L163.2 492.7 L164.5 507.5 L165.8 493.7 L167.0 499.9 L168.2 495.5 L169.5 499.9 L170.8 489.4 L172.0 488.1 L173.2 501.1 L174.5 506.8 L175.8 492.6 L177.0 495.5 L178.2 471.4 L179.5 488.8 L180.8 474.8 L182.0 489.9 L183.2 484.8 L184.5 485.9 L185.8 494.7 L187.0 491.8 L188.2 492.5 L189.5 478.2 L190.8 485.5 L192.0 481.1 L193.2 484.4 L194.5 485.9 L195.8 499.9 L197.0 486.3 L198.2 490.8 L199.5 496.0 L200.8 505.9 L202.0 511.6 L203.2 503.2 L204.5 490.8 L205.8 498.5 L207.0 502.6 L208.2 487.6 L209.5 503.3 L210.8 495.6 L212.0 501.0 L213.2 502.7 L214.5 509.4 L215.8 494.9 L217.0 492.7 L218.2 481.8 L219.5 488.1 L220.8 478.4 L222.0 486.5 L223.2 487.4 L224.5 492.8 L225.8 483.0 L227.0 473.9 L228.2 486.2 L229.5 478.4 L230.8 491.0 L232.0 481.8 L233.2 481.0 L234.5 492.5 L235.8 478.5 L237.0 475.8 L238.2 474.4 L239.5 477.1 L240.8 469.3 L242.0 478.4 L243.2 497.1 L244.5 503.7 L245.8 489.1 L247.0 488.1 L248.2 480.7 L249.5 478.9 L250.8 480.2 L252.0 480.3 L253.2 470.0 L254.5 474.2 L255.8 471.6 L257.0 470.2 L258.2 475.8 L259.5 471.2 L260.8 476.7 L262.0 476.1 L263.2 466.3 L264.5 473.2 L265.8 471.8 L267.0 478.4 L268.2 464.6 L269.5 466.1 L270.8 473.2 L272.0 470.7 L273.2 476.3 L274.5 468.9 L275.8 465.6 L277.0 482.8 L278.2 466.1 L279.5 459.6 L280.8 467.4 L282.0 470.0 L283.2 468.4 L284.5 476.7 L285.8 487.7 L287.0 472.4 L288.2 480.9 L289.5 487.7 L290.8 493.8 L292.0 497.6 L293.2 478.6 L294.5 487.3 L295.8 495.0 L297.0 476.6 L298.2 488.5 L299.5 479.3 L300.8 492.9 L302.0 497.5 L303.2 489.2 L304.5 477.0 L305.8 477.7 L307.0 485.0 L308.2 493.8 L309.5 478.9 L310.8 486.1 L312.0 479.2 L313.2 475.3 L314.5 482.9 L315.8 473.9 L317.0 474.9 L318.2 482.9 L319.5 477.4 L320.8 483.2 L322.0 477.8 L323.2 470.6 L324.5 476.4 L325.8 485.5 L327.0 479.8 L328.2 488.8 L329.5 469.2 L330.8 479.4 L332.0 493.2 L333.2 496.1 L334.5 506.0 L335.8 499.5 L337.0 505.0 L338.2 501.5 L339.5 499.5 L340.8 501.0 L342.0 504.9 L343.2 496.3 L344.5 505.4 L345.8 513.6 L347.0 506.6 L348.2 497.4 L349.5 485.6 L350.8 495.4 L352.0 501.2 L353.2 496.1 L354.5 495.5 L355.8 489.7 L357.0 488.0 L358.2 495.2 L359.5 480.3 L360.8 496.7 L362.0 496.0 L363.2 495.3 L364.5 475.3 L365.8 472.3 L367.0 486.6 L368.2 473.6 L369.5 468.4 L370.8 469.4 L372.0 474.7 L373.2 463.2 L374.5 469.9 L375.8 473.8 L377.0 475.4 L378.2 460.9 L379.5 478.5 L380.8 471.8 L382.0 472.8 L383.2 477.1 L384.5 473.3 L385.8 487.8 L387.0 474.2 L388.2 481.8 L389.5 474.0 L390.8 484.3 L392.0 491.5 L393.2 491.6 L394.5 495.3 L395.8 485.1 L397.0 490.6 L398.2 472.8 L399.5 477.0 L400.8 483.1 L402.0 483.4 L403.2 476.8 L404.5 480.7 L405.8 481.1 L407.0 473.8 L408.2 480.2 L409.5 478.3 L410.8 480.6 L412.0 476.0 L413.2 471.8 L414.5 472.2 L415.8 480.6 L417.0 458.3 L418.2 449.2 L419.5 448.6 L420.8 472.2 L422.0 475.3 L423.2 454.2 L424.5 456.0 L425.8 455.0 L427.0 467.8 L428.2 465.2 L429.5 483.9 L430.8 457.0 L432.0 479.7 L433.2 465.8 L434.5 476.7 L435.8 476.2 L437.0 479.1 L438.2 466.3 L439.5 469.3 L440.8 467.7 L442.0 457.1 L443.2 465.7 L444.5 476.9 L445.8 476.2 L447.0 453.4 L448.2 470.0 L449.5 461.6 L450.8 457.0 L452.0 457.3 L453.2 473.6 L454.5 477.6 L455.8 467.2 L457.0 464.2 L458.2 467.7 L459.5 476.1 L460.8 474.7 L462.0 457.1 L463.2 461.3 L464.5 480.4 L465.8 469.9 L467.0 474.7 L468.2 478.2 L469.5 474.3 L470.8 476.6 L472.0 470.7 L473.2 461.8 L474.5 460.3 L475.8 480.1 L477.0 455.3 L478.2 471.7 L479.5 478.8 L480.8 458.0 L482.0 450.5 L483.2 454.6 L484.5 444.1 L485.8 452.4 L487.0 450.9 L488.2 459.3 L489.5 443.7 L490.8 457.5 L492.0 441.4 L493.2 456.8 L494.5 445.6 L495.8 451.9 L497.0 436.3 L498.2 443.5 L499.5 447.0 L500.8 445.1 L502.0 448.8 L503.2 433.6 L504.5 438.9 L505.8 443.3 L507.0 428.1 L508.2 448.3 L509.5 436.4 L510.8 430.8 L512.0 429.3 L513.2 440.8 L514.5 421.9 L515.8 430.1 L517.0 432.8 L518.2 452.3 L519.5 444.4 L520.8 440.9 L522.0 445.9 L523.2 442.5 L524.5 435.5 L525.8 436.0 L527.0 432.5 L528.2 434.6 L529.5 440.8 L530.8 443.0 L532.0 435.5 L533.2 436.3 L534.5 432.0 L535.8 461.0 L537.0 442.9 L538.2 480.0 L539.5 468.8 L540.8 458.4 L542.0 455.0 L543.2 461.6 L544.5 466.5 L545.8 445.6 L547.0 476.0 L548.2 477.8 L549.5 479.1 L550.8 458.4 L552.0 451.1 L553.2 458.2 L554.5 448.6 L555.8 456.9 L557.0 466.2 L558.2 456.6 L559.5 465.0 L560.8 449.6 L562.0 467.0 L563.2 448.0 L564.5 450.0 L565.8 464.2 L567.0 453.4 L568.2 448.2 L569.5 477.4 L570.8 470.1 L572.0 445.8 L573.2 447.1 L574.5 474.0 L575.8 469.0 L577.0 456.6 L578.2 451.5 L579.5 470.1 L580.8 467.4 L582.0 463.7 L583.2 460.5 L584.5 460.4 L585.8 467.1 L587.0 460.3 L588.2 453.8 L589.5 453.7 L590.8 461.5 L592.0 463.6 L593.2 462.1 L594.5 463.8 L595.8 457.9 L597.0 459.3 L598.2 458.3 L599.5 459.9 L600.8 458.9 L602.0 465.2 L603.2 457.6 L604.5 458.2 L605.8 462.8 L607.0 456.9 L608.2 454.0 L609.5 461.8 L610.8 459.3 L612.0 437.4 L613.2 443.9 L614.5 453.8 L615.8 457.9 L617.0 454.1 L618.2 458.8 L619.5 460.4 L620.8 463.0 L622.0 452.0 L623.2 459.8 L624.5 465.1 L625.8 446.7 L627.0 445.5 L628.2 445.2 L629.5 451.4 L630.8 447.0 L632.0 447.9 L633.2 447.5 L634.5 445.1 L635.8 443.5 L637.0 445.4 L638.2 452.7 L639.5 448.2 L640.8 450.5 L642.0 450.3 L643.2 462.7 L644.5 453.8 L645.8 445.3 L647.0 436.8 L648.2 441.5 L649.5 443.7 L650.8 449.3 L652.0 440.4 L653.2 441.2 L654.5 423.2 L655.8 422.8 L657.0 428.4 L658.2 424.8 L659.5 429.5 L660.8 435.6 L662.0 435.3 L663.2 435.1 L664.5 429.6 L665.8 441.7 L667.0 439.9 L668.2 435.0 L669.5 444.0 L670.8 431.0 L672.0 433.7 L673.2 444.1 L674.5 431.2 L675.8 432.6 L677.0 438.5 L678.2 441.9 L679.5 439.9 L680.8 431.6 L682.0 436.8 L683.2 446.0 L684.5 440.1 L685.8 437.2 L687.0 433.4 L688.2 438.2 L689.5 451.1 L690.8 427.5 L692.0 438.6 L693.2 421.1 L694.5 444.4 L695.8 435.5 L697.0 447.7 L698.2 434.4 L699.5 444.0 L700.8 438.0 L702.0 453.5 L703.2 453.2 L704.5 450.6 L705.8 440.9 L707.0 451.5 L708.2 456.1 L709.5 440.7 L710.8 444.6 L712.0 435.5 L713.2 432.8 L714.5 446.1 L715.8 429.1 L717.0 441.1 L718.2 429.9 L719.5 441.8 L720.8 443.0 L722.0 446.4 L723.2 434.5 L724.5 434.1 L725.8 433.8 L727.0 439.7 L728.2 440.8 L729.5 425.4 L730.8 428.5 L732.0 421.6 L733.2 423.9 L734.5 432.0 L735.8 433.8 L737.0 432.2 L738.2 412.2 L739.5 418.7 L740.8 428.0 L742.0 419.7 L743.2 415.9 L744.5 424.6 L745.8 425.8 L747.0 409.2 L748.2 416.7 L749.5 406.0 L750.8 405.9 L752.0 414.8 L753.2 406.7 L754.5 420.4 L755.8 406.7 L757.0 400.2 L758.2 409.4 L759.5 399.3 L760.8 393.3 L762.0 390.4 L763.2 396.2 L764.5 395.9 L765.8 407.1 L767.0 393.5 L768.2 416.9 L769.5 423.5 L770.8 392.4 L772.0 410.3 L773.2 394.2 L774.5 382.4 L775.8 396.9 L777.0 394.3 L778.2 382.4 L779.5 391.0 L780.8 378.2 L782.0 374.6 L783.2 391.3 L784.5 378.2 L785.8 387.0 L787.0 381.4 L788.2 386.7 L789.5 383.1 L790.8 391.1 L792.0 381.2 L793.2 391.6 L794.5 396.9 L795.8 385.5 L797.0 381.6 L798.2 378.4 L799.5 380.9 L800.8 373.6 L802.0 377.5 L803.2 380.9 L804.5 375.4 L805.8 373.9 L807.0 370.4 L808.2 389.0 L809.5 395.9 L810.8 399.9 L812.0 400.8 L813.2 401.2 L814.5 415.0 L815.8 407.4 L817.0 392.8 L818.2 395.9 L819.5 380.7 L820.8 396.6 L822.0 403.6 L823.2 398.5 L824.5 389.4 L825.8 383.4 L827.0 385.0 L828.2 378.1 L829.5 382.5 L830.8 375.8 L832.0 378.9 L833.2 379.0 L834.5 377.1 L835.8 381.3 L837.0 373.8 L838.2 371.8 L839.5 399.6 L840.8 398.2 L842.0 387.8 L843.2 378.1 L844.5 371.7 L845.8 369.7 L847.0 375.4 L848.2 379.9 L849.5 383.3 L850.8 376.0 L852.0 383.6 L853.2 382.6 L854.5 383.3 L855.8 372.5 L857.0 377.5 L858.2 369.0 L859.5 398.1 L860.8 356.3 L862.0 348.4 L863.2 360.1 L864.5 373.6 L865.8 370.0 L867.0 367.4 L868.2 375.5 L869.5 375.6 L870.8 378.5 L872.0 370.2 L873.2 379.9 L874.5 394.7 L875.8 369.6 L877.0 377.5 L878.2 382.3 L879.5 373.5 L880.8 380.6 L882.0 381.2 L883.2 366.0 L884.5 369.3 L885.8 370.6 L887.0 376.2 L888.2 365.9 L889.5 378.5 L890.8 372.2 L892.0 378.3 L893.2 376.9 L894.5 388.9 L895.8 389.0 L897.0 382.6 L898.2 395.8 L899.5 381.8 L900.8 380.7 L902.0 389.8 L903.2 397.6 L904.5 405.1 L905.8 397.8 L907.0 409.6 L908.2 399.7 L909.5 384.8 L910.8 401.5 L912.0 388.1 L913.2 381.6 L914.5 381.4 L915.8 396.5 L917.0 398.3 L918.2 379.7 L919.5 399.9 L920.8 394.9 L922.0 380.8 L923.2 373.7 L924.5 376.4 L925.8 383.1 L927.0 378.4 L928.2 378.2 L929.5 380.0 L930.8 392.0 L932.0 375.1 L933.2 392.2 L934.5 383.3 L935.8 389.4 L937.0 385.0 L938.2 394.8 L939.5 380.4 L940.8 383.8 L942.0 390.7 L943.2 391.8 L944.5 389.0 L945.8 389.3 L947.0 385.0 L948.2 395.7 L949.5 404.9 L950.8 407.2 L952.0 396.4 L953.2 413.9 L954.5 415.0 L955.8 396.1 L957.0 390.5 L958.2 413.3 L959.5 415.7 L960.8 406.3 L962.0 414.6 L963.2 401.3 L964.5 403.2 L965.8 388.9 L967.0 398.7 L968.2 416.6 L969.5 387.3 L970.8 394.6 L972.0 396.8 L973.2 412.7 L974.5 417.5 L975.8 416.8 L977.0 425.2 L978.2 421.6 L979.5 421.2 L980.8 420.9 L982.0 419.1 L983.2 409.7 L984.5 410.8 L985.8 423.6 L987.0 413.5 L988.2 417.4 L989.5 422.3 L990.8 421.0 L992.0 411.8 L993.2 412.1 L994.5 408.4 L995.8 422.1 L997.0 422.7 L998.2 408.6 L999.5 412.7 L1000.8 410.5 L1002.0 433.6 L1003.2 418.4 L1005.0 421.6 L1017.0 421.6" stroke="#f20008" stroke-width="2.8" stroke-dasharray="7 3.6" stroke-linecap="butt"/>
</g>
<g fill="none" stroke="#5a5a5a" stroke-width="1.6">
<rect x="84.5" y="16" width="932.0" height="518"/>
<path d="M287.1 534.0 V521.5 M287.1 16.0 V28.5 M489.7 534.0 V521.5 M489.7 16.0 V28.5 M692.2 534.0 V521.5 M692.2 16.0 V28.5 M894.8 534.0 V521.5 M894.8 16.0 V28.5 M84.5 497.7 H97.0 M1016.5 497.7 H1004.0 M84.5 401.4 H97.0 M1016.5 401.4 H1004.0 M84.5 305.0 H97.0 M1016.5 305.0 H1004.0 M84.5 208.7 H97.0 M1016.5 208.7 H1004.0 M84.5 112.3 H97.0 M1016.5 112.3 H1004.0"/>
</g>
<text x="70.7" y="507.4" text-anchor="end">0</text><text x="70.7" y="411.1" text-anchor="end">2</text><text x="70.7" y="314.7" text-anchor="end">4</text><text x="70.7" y="218.4" text-anchor="end">6</text><text x="70.7" y="122.0" text-anchor="end">8</text><text x="70.7" y="25.7" text-anchor="end">10</text>
<text x="72.4" y="572.6">0</text><text x="258.7" y="572.6">100</text><text x="461.0" y="572.6">200</text><text x="663.4" y="572.6">300</text><text x="864.4" y="572.6">400</text>
<text x="495.4" y="627">Time (s)</text>
<text transform="translate(33.2 275) rotate(-90)" text-anchor="middle">Z (m)</text>
<rect x="92.6" y="23.9" width="210.5" height="119.2" fill="#fff" stroke="#5a5a5a" stroke-width="1.4"/>
<path d="M93 42.3 H168" stroke="#0800e0" stroke-width="3.3"/>
<path d="M93 83.2 H168" stroke="#1cf01c" stroke-width="3.3"/>
<circle cx="130.2" cy="83.2" r="5.1" fill="#fff" stroke="#1cf01c" stroke-width="0.8"/>
<path d="M92.6 124.3 H163.6" stroke="#f20008" stroke-width="3.3" stroke-dasharray="7 3.6"/>
<text class="lg" x="175.1" y="52.6">Method <tspan x="285.6">1</tspan></text>
<text class="lg" x="175.1" y="93.5">Method <tspan x="285.3">2</tspan></text>
<text class="lg" x="175.1" y="134.5">Method <tspan x="285">3</tspan></text>
</svg>
</body></html>
